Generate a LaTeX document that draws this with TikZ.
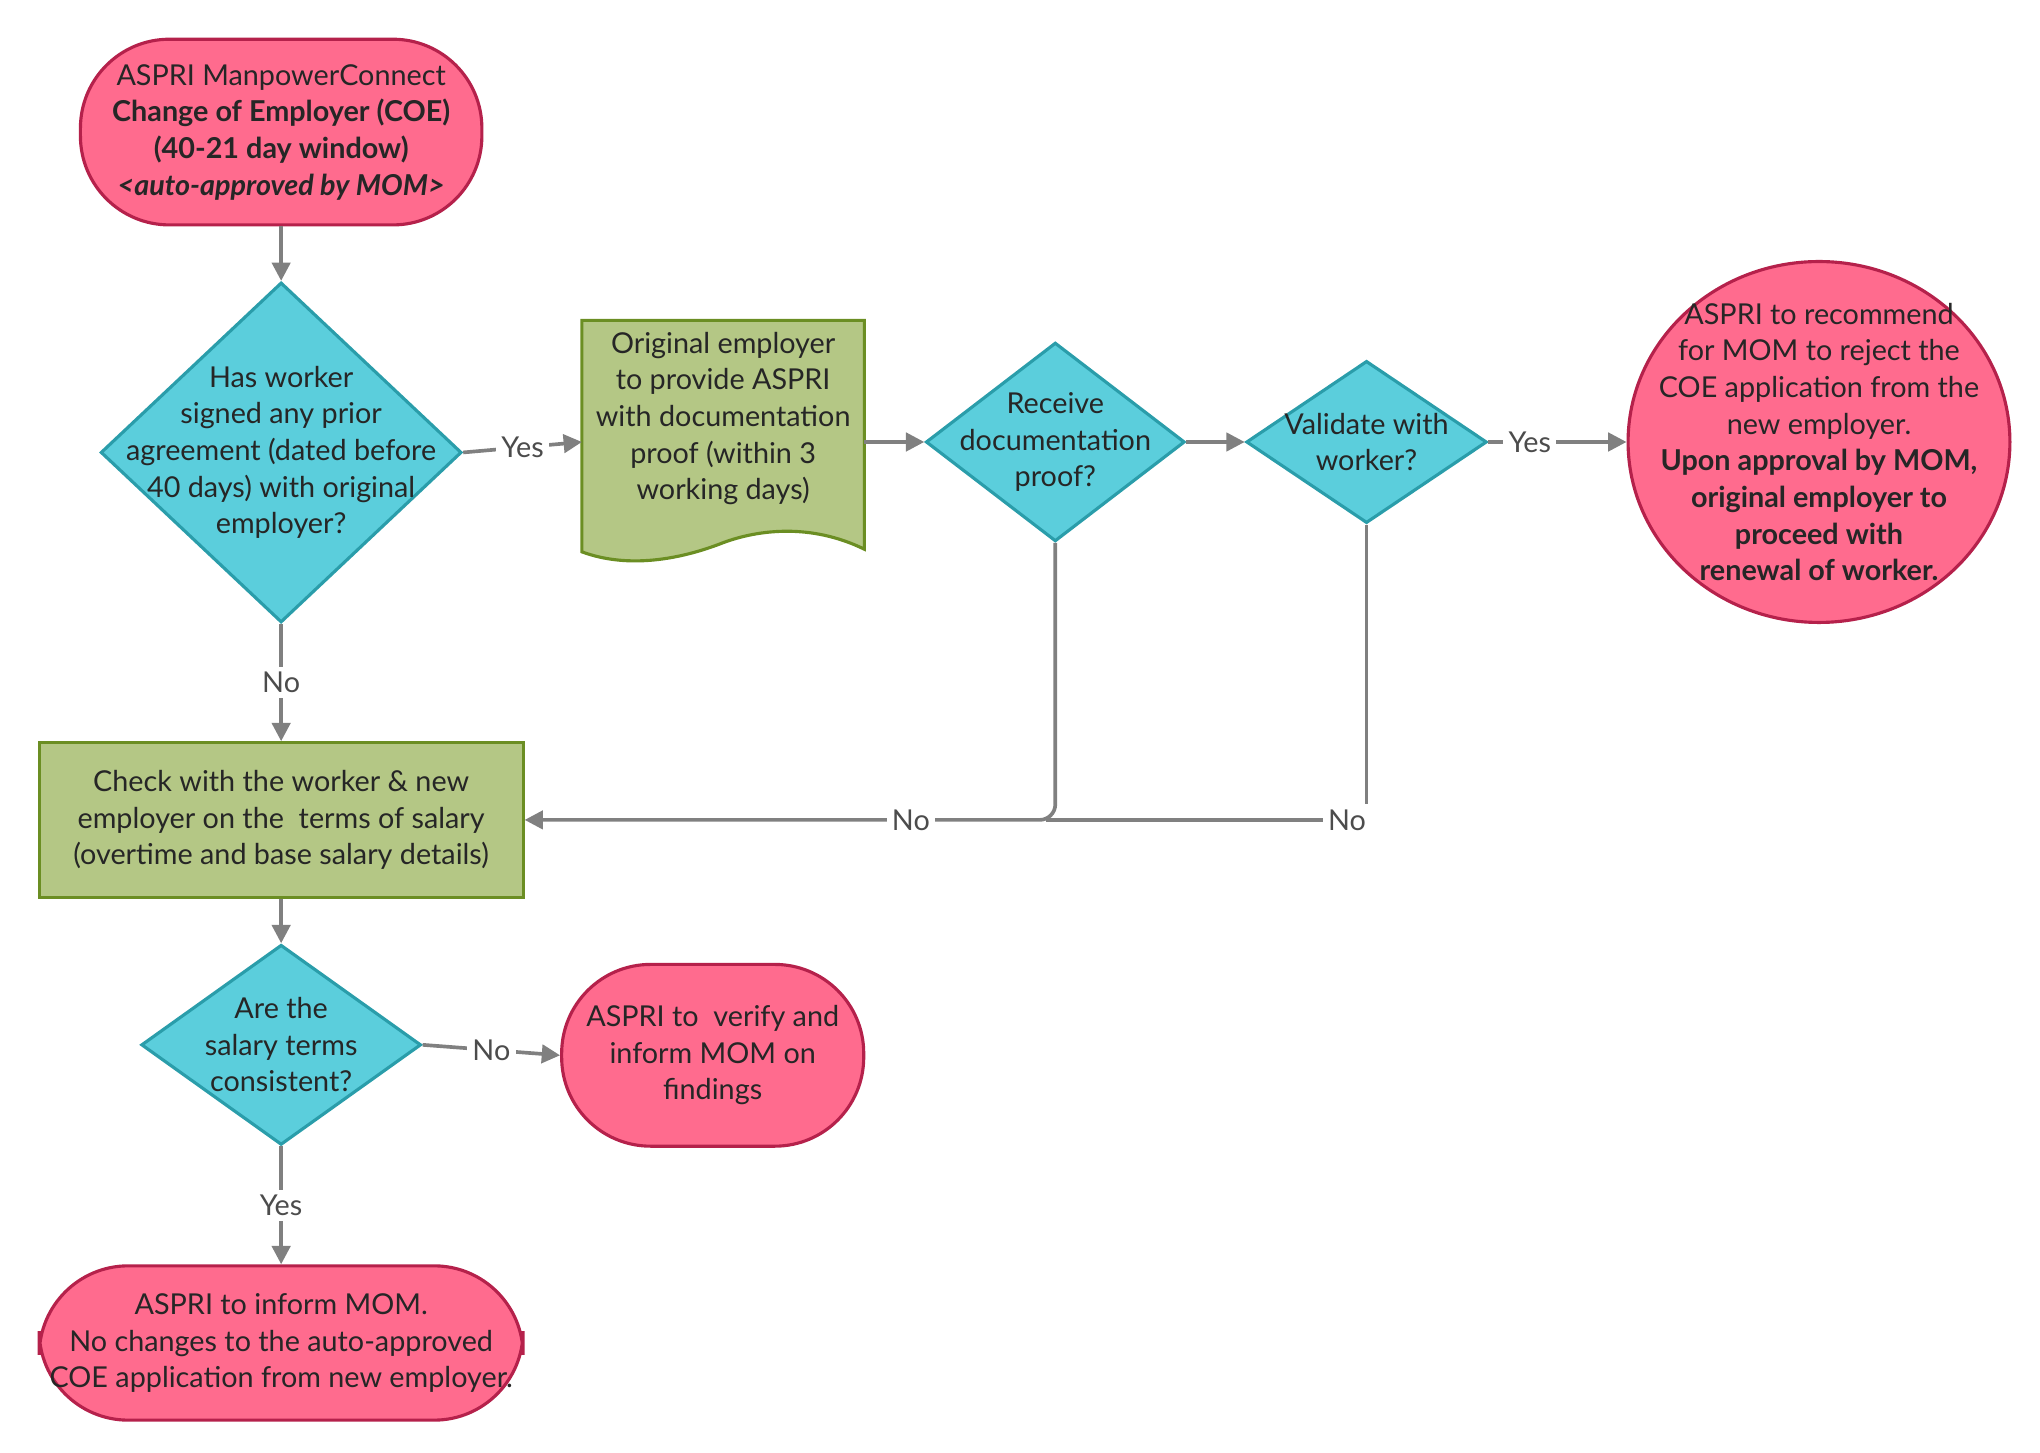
\documentclass[tikz,border=0pt]{standalone}
\usepackage{fontspec}
\setmainfont{Lato}
\usetikzlibrary{shapes.geometric,arrows.meta}
\definecolor{pinkf}{HTML}{FF6B8E}
\definecolor{pinkd}{HTML}{B5214B}
\definecolor{cyanf}{HTML}{5BCEDC}
\definecolor{cyand}{HTML}{2A9DAA}
\definecolor{greenf}{HTML}{B4C785}
\definecolor{greend}{HTML}{6B8E23}
\definecolor{arr}{HTML}{808080}
\begin{document}
\begin{tikzpicture}[x=0.5pt,y=-0.5pt,
  every node/.style={font=\fontsize{11}{14}\selectfont,align=center,text=black!85},
  term/.style={draw=pinkd,fill=pinkf,line width=1.2pt,rounded corners=34pt,minimum width=#1,inner sep=0pt},
  dia/.style={draw=cyand,fill=cyanf,line width=1.2pt,diamond,inner sep=0pt},
  box/.style={draw=greend,fill=greenf,line width=1.2pt,inner sep=0pt},
  ar/.style={draw=arr,line width=1.4pt,-{Triangle[length=7pt,width=7pt]}},
  ln/.style={draw=arr,line width=1.4pt},
  lab/.style={fill=white,text=black!70,inner sep=2pt}]
\useasboundingbox (0,0) rectangle (1560,1111);
\node[term=153.5pt,minimum height=71pt] (s) at (215,101) {ASPRI ManpowerConnect\\\textbf{Change of Employer (COE)}\\\textbf{(40-21 day window)}\\\textbf{\textit{<auto-approved by MOM>}}};
\node[dia,minimum width=138pt,minimum height=130pt] (d1) at (215,346) {};
\node at (d1) {Has worker\\signed any prior\\agreement (dated before\\40 days) with original\\employer?};
\draw[greend,fill=greenf,line width=1.2pt] (445,245) -- (661,245) -- (661,420) .. controls (620,400) and (580,405) .. (553,415) .. controls (520,428) and (480,435) .. (445,422) -- cycle;
\node (doc) at (553,320) {Original employer\\to provide ASPRI\\with documentation\\proof (within 3\\working days)};
\coordinate (docE) at (661,338);
\coordinate (docW) at (445,338);
\node[dia,minimum width=99pt,minimum height=76pt] (d2) at (807,338) {};
\node at (d2) {Receive\\documentation\\proof?};
\node[dia,minimum width=92pt,minimum height=62pt] (d3) at (1045,338) {};
\node at (d3) {Validate with\\worker?};
\node[ellipse,draw=pinkd,fill=pinkf,line width=1.2pt,minimum width=146pt,minimum height=138pt] (c) at (1391,338) {};
\node at (c) {ASPRI to recommend\\for MOM to reject the\\COE application from the\\new employer.\\\textbf{Upon approval by MOM,}\\\textbf{original employer to}\\\textbf{proceed with}\\\textbf{renewal of worker.}};
\node[box,minimum width=185pt,minimum height=59pt] (chk) at (215,627) {Check with the worker \& new\\employer on the \ terms of salary\\(overtime and base salary details)};
\node[dia,minimum width=107pt,minimum height=76.5pt] (d4) at (215,799) {};
\node at (d4) {Are the\\salary terms\\consistent?};
\node[term=115.5pt,minimum height=69.5pt] (v) at (545,807) {ASPRI to \ verify and\\inform MOM on\\findings};
\node[term=185pt,minimum height=59pt] (f) at (215,1027) {ASPRI to inform MOM.\\No changes to the auto-approved\\COE application from new employer.};
\draw[ar] (s) -- (d1);
\draw[ar] (d1.east) -- (docW) node[lab,pos=0.5] {Yes};
\draw[ar] (docE) -- (d2.west);
\draw[ar] (d2.east) -- (d3.west);
\draw[ar] (d3.east) -- (c.west) node[lab,pos=0.3] {Yes};
\draw[ar] (d1.south) -- (chk.north) node[lab,pos=0.5] {No};
\draw[ar] (d2.south) -- (807,615) arc (0:90:12) -- (chk.east) node[lab,pos=0.25] {No};
\draw[ln] (d3.south) -- (1045,627) -- (800,627);
\node[lab] at (1030,627) {No};
\draw[ar] (chk) -- (d4);
\draw[ar] (d4.east) -- (v.west) node[lab,pos=0.5] {No};
\draw[ar] (d4.south) -- (f.north) node[lab,pos=0.5] {Yes};
\end{tikzpicture}
\end{document}
